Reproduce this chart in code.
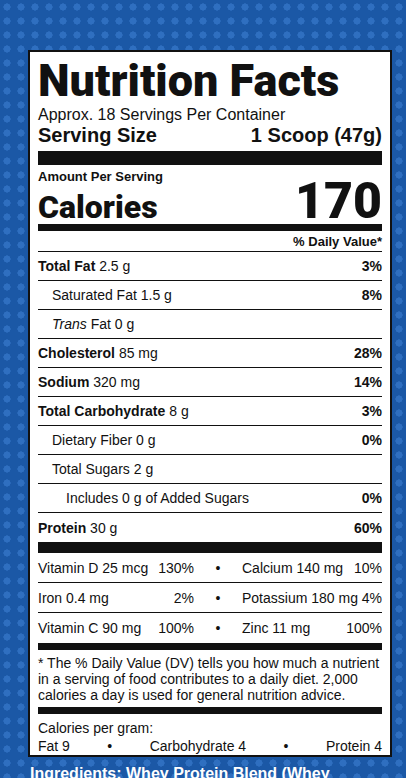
<!DOCTYPE html>
<html lang="en">
<head>
<meta charset="UTF-8" />
<title>Nutrition Facts</title>
<script src="https://cdn.jsdelivr.net/npm/chart.js"></script>
<style>
  html, body { margin: 0; padding: 0; }
  body {
    width: 406px; height: 778px; overflow: hidden;
    background: radial-gradient(circle, #2f6fc0 35%, #1b58a6 37%) 0 0 / 14px 14px, #1b58a6;
    font-family: "Liberation Sans", Arial, sans-serif; color: #111;
    position: relative;
  }
  .panel {
    position: absolute; left: 28px; top: 50px; width: 364px; height: 707px;
    background: #fff; border: 2px solid #111; box-sizing: border-box; padding: 0 8px;
  }
  .heavy { font-family: Roboto, "Liberation Sans", sans-serif; font-weight: 900; }
  .title { font-size: 45px; line-height: 50px; margin-top: 4px; white-space: nowrap; }
  .servings { font-size: 16px; line-height: 18px; }
  .size { font-weight: bold; font-size: 20px; line-height: 22px; display: flex; justify-content: space-between; }
  .bar14 { height: 14px; background: #111; margin-top: 5px; }
  .bar7 { height: 7px; background: #111; }
  .aps { font-weight: bold; font-size: 13px; line-height: 15px; margin-top: 4px; }
  .cal { display: flex; justify-content: space-between; align-items: flex-end; height: 40px; }
  .cal .l { font-size: 32px; line-height: 34px; }
  .cal .r { font-size: 50px; line-height: 46px; }
  .dvh { text-align: right; font-weight: bold; font-size: 13px; line-height: 18px; border-bottom: 1px solid #111; height: 21px; box-sizing: border-box; padding-top: 2px; }
  .row { display: flex; justify-content: space-between; align-items: center; height: 29px; font-size: 14px; border-bottom: 1px solid #111; box-sizing: border-box; }
  .vrow { display: flex; align-items: center; height: 30px; font-size: 14px; border-bottom: 1px solid #111; box-sizing: border-box; }
  .vrow.last { border-bottom: none; }
  .foot { font-size: 14px; line-height: 16px; padding: 5px 0 4px; }
  .cpg { font-size: 14px; line-height: 16px; margin-top: 6px; }
  .ingr { position: absolute; left: 30px; top: 765px; color: #fff; font-weight: bold; font-size: 16px; white-space: nowrap; }
</style>
</head>
<body>
<div class="panel" id="panel"></div>
<div class="ingr">Ingredients: Whey Protein Blend (Whey</div>
<script>
const nutrients = ["Total Fat", "Saturated Fat", "Trans Fat", "Cholesterol", "Sodium", "Total Carbohydrate", "Dietary Fiber", "Total Sugars", "Includes 0 g of Added Sugars", "Protein"];
const amounts = ["2.5 g", "1.5 g", "0 g", "85 mg", "320 mg", "8 g", "0 g", "2 g", "", "30 g"];
const dailyValues = ["3%", "8%", "", "28%", "14%", "3%", "0%", "", "0%", "60%"];
const indents = [0, 1, 1, 0, 0, 0, 1, 1, 2, 0];
const bolds = [1, 0, 0, 1, 1, 1, 0, 0, 0, 1];
const vitaminsL = ["Vitamin D 25 mcg", "Iron 0.4 mg", "Vitamin C 90 mg"];
const vitaminsLdv = ["130%", "2%", "100%"];
const vitaminsR = ["Calcium 140 mg", "Potassium 180 mg", "Zinc 11 mg"];
const vitaminsRdv = ["10%", "4%", "100%"];

let h = `
  <div class="title heavy">Nutrition Facts</div>
  <div class="servings">Approx. 18 Servings Per Container</div>
  <div class="size"><span>Serving Size</span><span>1 Scoop (47g)</span></div>
  <div class="bar14"></div>
  <div class="aps">Amount Per Serving</div>
  <div class="cal heavy"><span class="l">Calories</span><span class="r">170</span></div>
  <div class="bar7"></div>
  <div class="dvh">% Daily Value*</div>`;
nutrients.forEach((n, i) => {
  const pad = [0, 14, 28][indents[i]];
  let name = bolds[i] ? `<b>${n}</b>` : n;
  if (n === "Trans Fat") name = "<i>Trans</i> Fat";
  const last = i === nutrients.length - 1 ? ' style="border-bottom:none"' : '';
  h += `<div class="row"${last}><span style="padding-left:${pad}px">${name} ${amounts[i]}</span><b>${dailyValues[i]}</b></div>`;
});
h += `<div class="bar14" style="margin-top:0;height:11px"></div>`;
vitaminsL.forEach((v, i) => {
  h += `<div class="vrow${i === 2 ? ' last' : ''}">
    <span style="width:118px">${v}</span><span style="width:38px;text-align:right">${vitaminsLdv[i]}</span>
    <span style="width:48px;text-align:center">•</span>
    <span style="flex:1">${vitaminsR[i]}</span><span>${vitaminsRdv[i]}</span></div>`;
});
h += `<div class="bar7"></div>
  <div class="foot">* The % Daily Value (DV) tells you how much a nutrient in a serving of food contributes to a daily diet. 2,000 calories a day is used for general nutrition advice.</div>
  <div class="bar7"></div>
  <div class="cpg">Calories per gram:</div>
  <div class="cpg" style="margin-top:2px;display:flex;justify-content:space-between"><span>Fat 9</span><span>•</span><span>Carbohydrate 4</span><span>•</span><span>Protein 4</span></div>`;
document.getElementById("panel").innerHTML = h;
</script>
</body>
</html>
